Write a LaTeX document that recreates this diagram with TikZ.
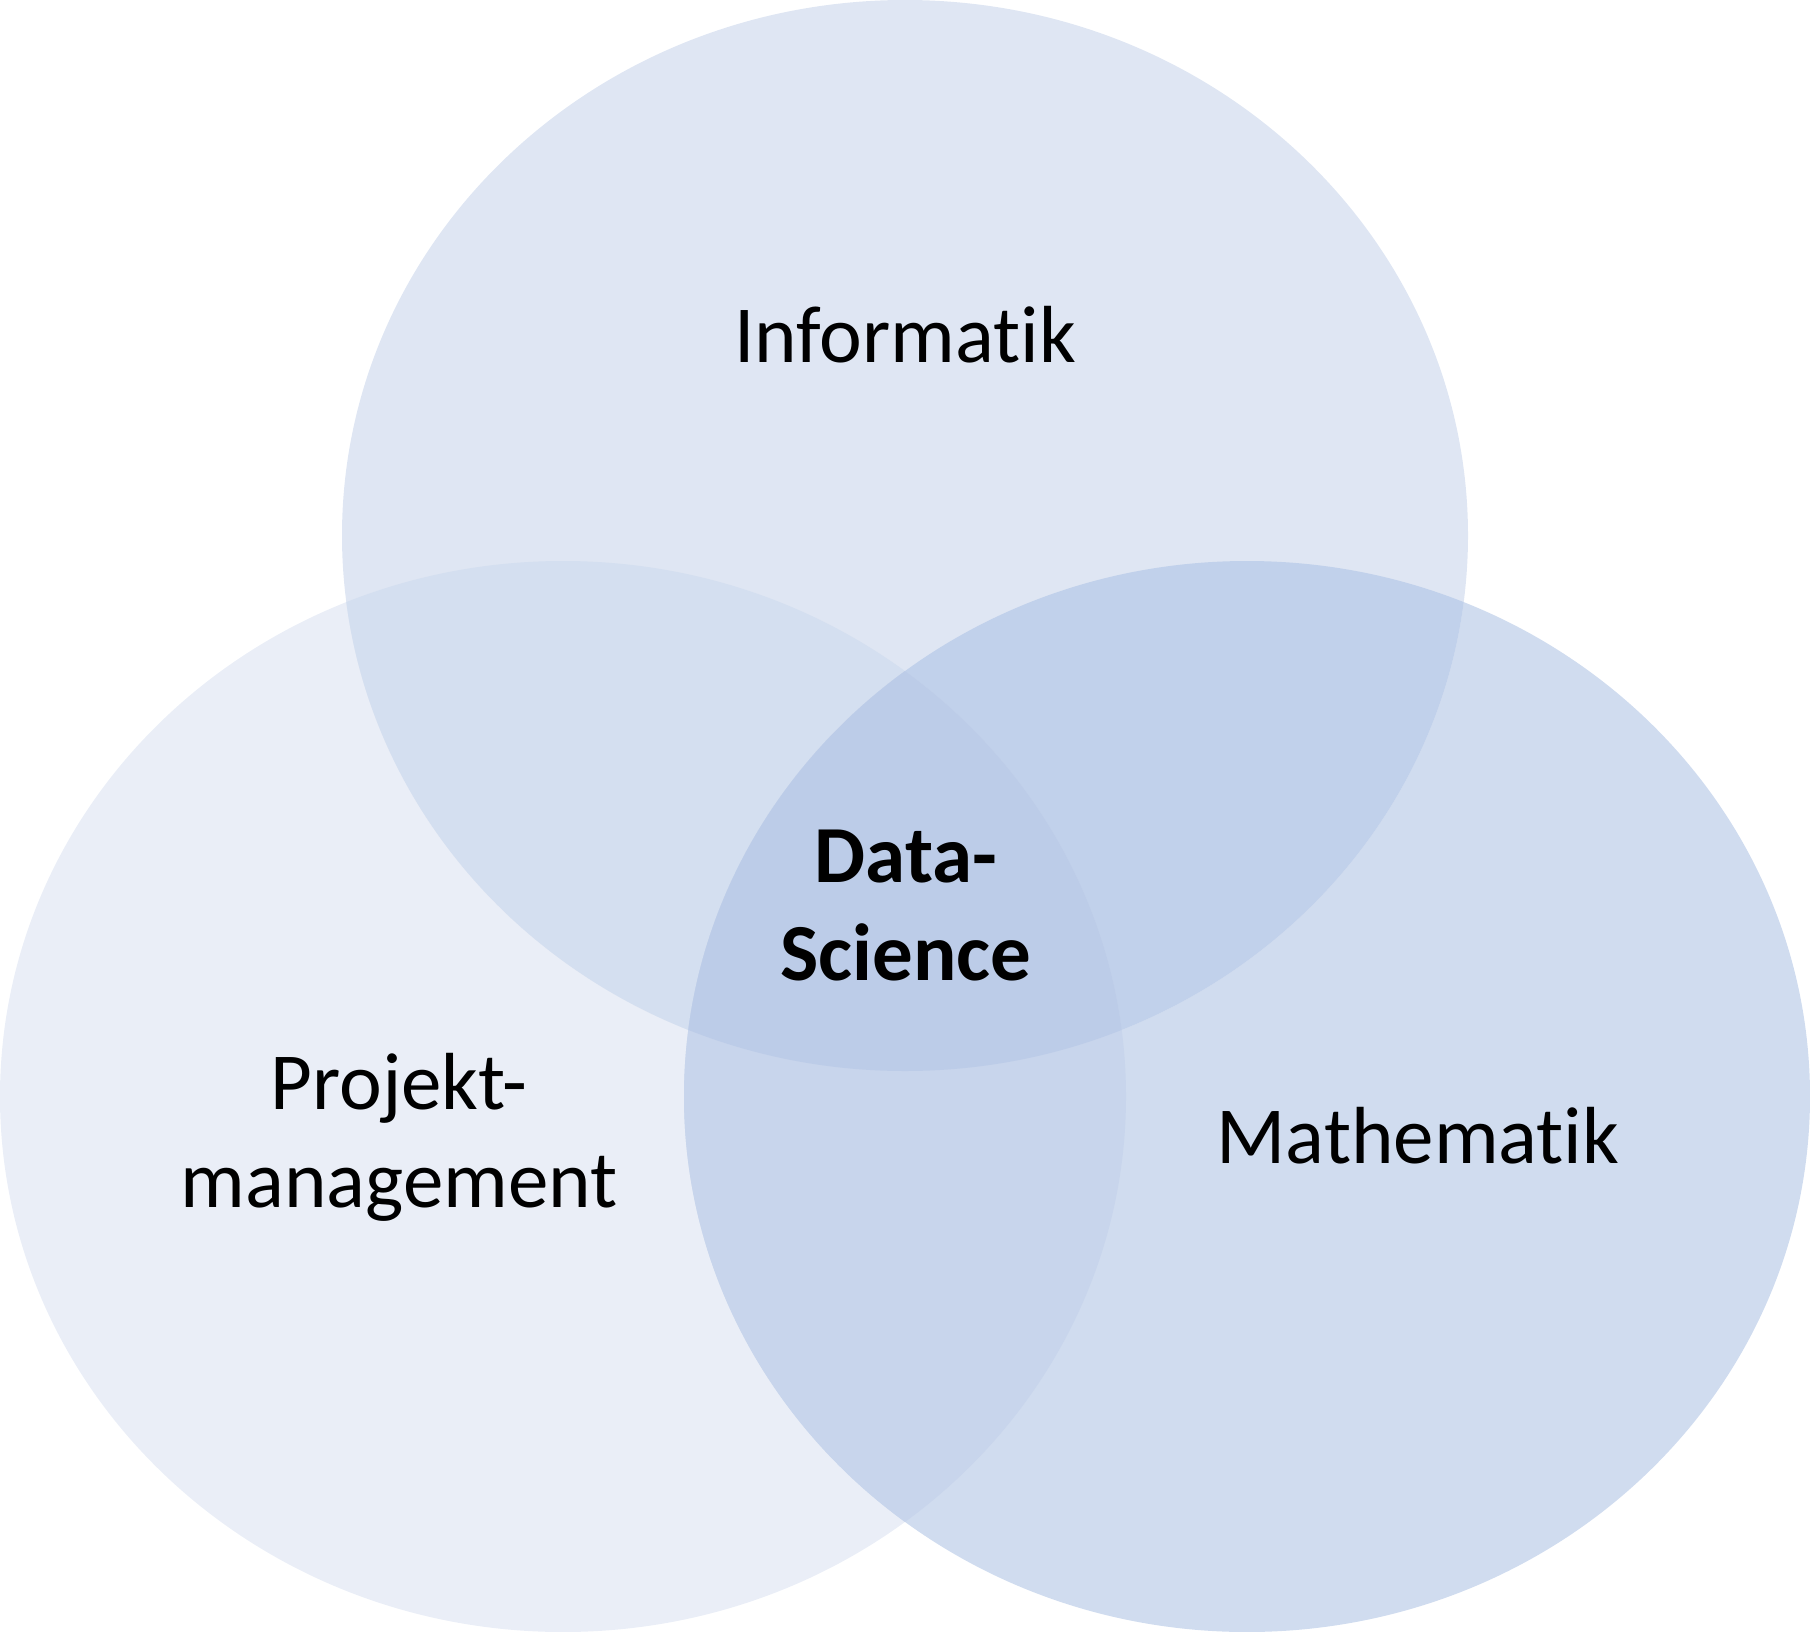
\documentclass[tikz,border=0pt]{standalone}
\usepackage{fontspec}
\setmainfont{Carlito}[Ligatures={NoCommon,NoContextual}]
\definecolor{cT}{HTML}{DFE6F3}
\definecolor{cL}{HTML}{EAEEF7}
\definecolor{cR}{HTML}{D0DCEF}
\definecolor{cTL}{HTML}{D4DFF0}
\definecolor{cTR}{HTML}{C1D1EB}
\definecolor{cLR}{HTML}{C8D5EC}
\definecolor{cTLR}{HTML}{BCCCE8}
\tikzset{
  lbl/.style={inner sep=0pt, outer sep=0pt, align=center, anchor=base,
    font=\fontsize{81pt}{98pt}\selectfont, text=black},
  boldlbl/.style={lbl, font=\fontsize{81pt}{98pt}\selectfont\bfseries}
}
\begin{document}
\begin{tikzpicture}[x=1pt,y=-1pt]
\useasboundingbox (0,0) rectangle (1810,1632);
% single circles
\fill[cL] (563,1096.5) ellipse [x radius=563pt, y radius=535.5pt];
\fill[cR] (1247,1096.5) ellipse [x radius=563pt, y radius=535.5pt];
\fill[cT] (905,535.5) ellipse [x radius=563pt, y radius=535.5pt];
% pairwise overlaps
\begin{scope}
  \clip (905,535.5) ellipse [x radius=563pt, y radius=535.5pt];
  \fill[cTL] (563,1096.5) ellipse [x radius=563pt, y radius=535.5pt];
  \fill[cTR] (1247,1096.5) ellipse [x radius=563pt, y radius=535.5pt];
\end{scope}
\begin{scope}
  \clip (563,1096.5) ellipse [x radius=563pt, y radius=535.5pt];
  \clip (1247,1096.5) ellipse [x radius=563pt, y radius=535.5pt];
  \fill[cLR] (0,0) rectangle (1810,1632);
  \clip (905,535.5) ellipse [x radius=563pt, y radius=535.5pt];
  \fill[cTLR] (0,0) rectangle (1810,1632);
\end{scope}
% labels (base anchor = baseline of the last line)
\node[lbl] (inf) at (905,362.7) {Informatik};
\node[lbl] (pm) at (399,1207.7) {Projekt-\\management};
\node[lbl] (math) at (1418,1163.3) {Mathematik};
\node[boldlbl] (ds) at (906,980) {Data-\\Science};
\end{tikzpicture}
\end{document}
